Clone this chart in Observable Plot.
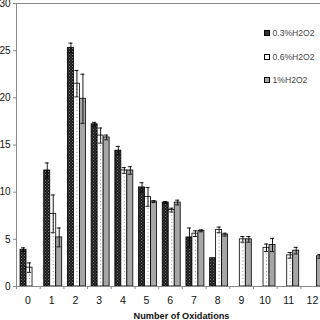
<!DOCTYPE html>
<html>
<head>
<meta charset="utf-8">
<script src="https://cdn.jsdelivr.net/npm/d3@7"></script>
<script src="https://cdn.jsdelivr.net/npm/@observablehq/plot@0.6"></script>
<style>
  html, body { margin: 0; padding: 0; background: #fff; }
  #chart { position: relative; width: 320px; height: 320px; overflow: hidden;
           font-family: "Liberation Sans", Arial, sans-serif; }
  #chart svg { max-width: none !important; width: 332px; height: 320px; display: block; }
  #legend { position: absolute; left: 264px; top: 27px; font-size: 8.6px; color: #444; }
  #legend .item { display: flex; align-items: center; height: 12px; margin-bottom: 11.5px; white-space: nowrap; }
  #legend .sw { width: 4px; height: 4px; border: 0.8px solid #000; margin-right: 2.5px; }
</style>
</head>
<body>
<div id="chart"><div id="legend"></div></div>
<script>
// Number of oxidations (x categories)
const categories = [0, 1, 2, 3, 4, 5, 6, 7, 8, 9, 10, 11, 12];
const seriesNames = ["0.3%H2O2", "0.6%H2O2", "1%H2O2"];

// Mean percentages per H2O2 concentration (0 = no bar)
const pct03 = [3.9, 12.3, 25.3, 17.2, 14.4, 10.5, 8.9, 5.2, 3.0, 0, 0, 0, 0];
const pct06 = [2.0, 7.7, 21.5, 16.0, 12.3, 9.5, 8.1, 5.6, 6.0, 5.0, 4.1, 3.3, 0];
const pct1  = [0, 5.2, 19.9, 15.8, 12.3, 9.0, 8.9, 5.9, 5.5, 5.0, 4.4, 3.8, 3.2];

// Error bar half-lengths
const err03 = [0.2, 0.8, 0.5, 0.2, 0.45, 0.5, 0.1, 1.0, 0, 0, 0, 0, 0];
const err06 = [0.5, 2.0, 1.4, 0.8, 0.3, 1.0, 0.2, 0.3, 0.3, 0.3, 0.4, 0.3, 0];
const err1  = [0, 1.0, 2.6, 0.25, 0.4, 0.1, 0.25, 0.1, 0.15, 0.3, 0.7, 0.35, 0.2];

const yTicks = [0, 5, 10, 15, 20, 25, 30];
const xTitle = "Number of Oxidations";

const means = [pct03, pct06, pct1];
const errs = [err03, err06, err1];
const fills = ["url(#hatch-dark)", "#ffffff", "#a6a6a6"];
const offset = [-0.253, 0, 0.253];   // bar centre offset within a group (x units)
const half = 0.1265;                 // half bar width (x units)
const cap = 0.085;                   // half error-cap width (x units)

const rows = [];
seriesNames.forEach((name, s) => {
  categories.forEach((k, i) => {
    const v = means[s][i];
    if (v > 0) rows.push({k, s, name, v, e: errs[s][i], c: k + offset[s]});
  });
});
const withErr = rows.filter(d => d.e > 0);
const boundaries = categories.map(k => k - 0.55).concat([categories.length - 0.55]);

const svg = Plot.plot({
  width: 332,
  height: 320,
  marginLeft: 16,
  marginRight: 2,
  marginTop: 3,
  marginBottom: 34,
  x: {domain: [-0.55, 12.7], axis: null},
  y: {domain: [0, 30], axis: null},
  color: {type: "identity"},
  style: {fontFamily: "Liberation Sans, Arial, sans-serif", background: "#fff", color: "#000", maxWidth: "none"},
  marks: [
    Plot.rectY(rows, {
      x1: d => d.c - half, x2: d => d.c + half, y: "v",
      fill: d => fills[d.s], stroke: "#000", strokeWidth: 0.8
    }),
    // dotted centre line on the white bars
    Plot.ruleX(rows.filter(d => d.s === 1), {
      x: "c", y1: 0, y2: "v", stroke: "#666", strokeWidth: 0.8, strokeDasharray: "0.9,2.6"
    }),
    // error bars
    Plot.ruleX(withErr, {x: "c", y1: d => d.v - d.e, y2: d => d.v + d.e, stroke: "#000", strokeWidth: 0.9}),
    Plot.ruleY(withErr, {y: d => d.v + d.e, x1: d => d.c - cap, x2: d => d.c + cap, stroke: "#000", strokeWidth: 0.9}),
    Plot.ruleY(withErr, {y: d => d.v - d.e, x1: d => d.c - cap, x2: d => d.c + cap, stroke: "#000", strokeWidth: 0.9}),
    Plot.frame({stroke: "#8a8a8a"}),
    Plot.axisY({ticks: yTicks, label: null, tickSize: 3, tickPadding: 3, fontSize: 10, stroke: "#8a8a8a", fill: "#111"}),
    Plot.axisX({ticks: boundaries, label: null, tickSize: 3, tickFormat: () => "", stroke: "#8a8a8a"}),
    Plot.text(categories, {
      x: d => d, frameAnchor: "bottom", lineAnchor: "top", dy: 10, dx: -1.5,
      fontSize: 10.5, fill: "#111"
    }),
    Plot.text([xTitle], {
      frameAnchor: "bottom", lineAnchor: "top", dy: 25.5, dx: 8,
      fontSize: 9.2, fontWeight: "bold", fill: "#111"
    })
  ]
});

// Fill pattern for the dark (0.3%) bars
const defs = document.createElementNS("http://www.w3.org/2000/svg", "defs");
defs.innerHTML = `
  <pattern id="hatch-dark" patternUnits="userSpaceOnUse" width="3" height="3">
    <rect width="3" height="3" fill="#1c1c1c"></rect>
    <rect x="0" y="0" width="1" height="1" fill="#7a7a7a"></rect>
    <rect x="1.5" y="1.5" width="1" height="1" fill="#6a6a6a"></rect>
  </pattern>`;
svg.insertBefore(defs, svg.firstChild);
document.getElementById("chart").prepend(svg);

// Legend
const legend = document.getElementById("legend");
seriesNames.forEach((name, s) => {
  const item = document.createElement("div");
  item.className = "item";
  const sw = document.createElement("div");
  sw.className = "sw";
  sw.style.background = s === 0 ? "#333" : fills[s];
  const label = document.createElement("span");
  label.textContent = name;
  item.append(sw, label);
  legend.append(item);
});
</script>
</body>
</html>
